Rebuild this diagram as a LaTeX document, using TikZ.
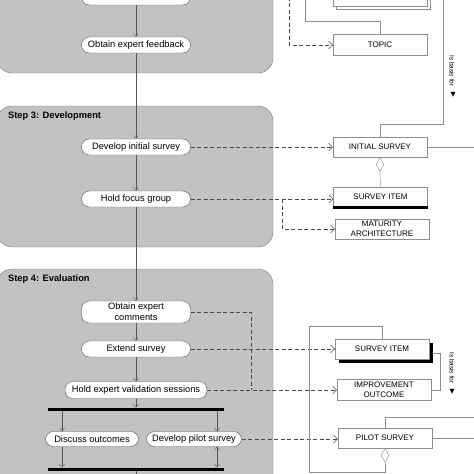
\documentclass[tikz,border=0pt]{standalone}
\usepackage{fontspec}
\setmainfont{Liberation Sans}
\newfontfamily\symfont{DejaVu Sans}
\usetikzlibrary{arrows.meta,shapes.geometric,shadows}

\definecolor{lanefill}{HTML}{C2C2C2}
\definecolor{laneline}{HTML}{7C7C7C}
\definecolor{actline}{HTML}{555555}
\definecolor{boxline}{HTML}{8E8E8E}
\definecolor{traceline}{HTML}{4A4A4A}

\tikzset{
  lane/.style={draw=laneline, fill=lanefill, rounded corners=15pt},
  steplabel/.style={anchor=west, inner sep=0pt, font=\bfseries\fontsize{9.3}{10}\selectfont},
  activity/.style={draw=actline, fill=white, rounded corners=8pt, minimum height=16pt,
    minimum width=109pt, inner sep=1pt, align=center, font=\fontsize{9.3}{11}\selectfont},
  concept/.style={draw=boxline, fill=white, minimum width=94pt, minimum height=20pt,
    inner sep=1pt, align=center, font=\fontsize{8}{9.6}\selectfont},
  aggregate/.style={diamond, draw=boxline, fill=white, minimum width=8pt, minimum height=14pt, inner sep=0pt},
  syncbar/.style={fill=black, minimum width=176pt, minimum height=3pt, inner sep=0pt, outer sep=0pt},
  basislabel/.style={rotate=-90, anchor=west, inner sep=0pt, font=\fontsize{6.5}{7}\selectfont},
  basistip/.style={inner sep=0pt, font=\symfont\fontsize{6.5}{7}\selectfont},
  flow/.style={draw=actline, -{Straight Barb[length=3pt,width=5pt]}},
  trace/.style={draw=traceline, dash pattern=on 4pt off 2.5pt, -{Straight Barb[length=4pt,width=8pt]}},
  link/.style={draw=boxline}
}

\begin{document}
\begin{tikzpicture}[x=1pt,y=-1pt,node distance=244pt]
    \useasboundingbox (0,0) rectangle (474,474);
    \clip (0,0) rectangle (474,474);

    % swimlanes
    \draw[lane] (-3,-30) rectangle (273,73);
    \draw[lane] (-3,106) rectangle (273,247);
    \draw[lane] (-3,269) rectangle (273,520);
    \node[steplabel] (step3) at (8,116) {Step 3: Development};
    \node[steplabel] (step4) at (8,279) {Step 4: Evaluation};

    % activities
    \node[activity] (prev) at (136,-3) {};
    \node[activity] (fb) at (136,45) {Obtain expert feedback};
    \node[activity] (dev) at (136,147) {Develop initial survey};
    \node[activity] (focus) at (136,199) {Hold focus group};
    \node[activity, minimum height=22pt] (comm) at (136,312) {Obtain expert\\comments};
    \node[activity] (ext) at (136,349) {Extend survey};
    \node[activity, minimum width=142pt, minimum height=17pt] (val) at (136,390) {Hold expert validation sessions};
    \node[syncbar] (fork) at (136,409) {};
    \node[activity, minimum width=93pt, minimum height=15pt] (disc) at (92,439) {Discuss outcomes};
    \node[activity, minimum width=95pt, minimum height=15pt] (pilot) at (194,439) {Develop pilot survey};
    \node[syncbar] (join) at (136,469) {};

    % concepts
    \node[concept, copy shadow={shadow xshift=3pt, shadow yshift=-3pt, draw=boxline, fill=white}] (topstack) at (380,-4) {};
    \node[concept, minimum height=21pt] [right of=fb] (topic) {TOPIC};
    \node[concept] [right of=dev] (init) {INITIAL SURVEY};
    \node[concept, minimum height=19pt] (sitem1) at (380.5,196.5) {SURVEY ITEM};
    \node[concept] (mat) at (382,229) {MATURITY\\ARCHITECTURE};
    \node[concept, drop shadow={shadow xshift=4pt, shadow yshift=-4pt, fill=black, opacity=1}] (sitem2) at (382,349) {SURVEY ITEM};
    \node[concept, minimum height=21pt] (imp) at (384,390) {IMPROVEMENT\\OUTCOME};
    \node[concept] (pil) at (385,438) {PILOT SURVEY};
    \node[aggregate, anchor=north] (initagg) at (init.south) {};
    \node[aggregate, anchor=north] (pilagg) at (pil.south) {};
    \fill (sitem1.south west) rectangle ([yshift=-3pt]sitem1.south east);

    \node[basislabel] (basis1) at (452,55) {Is basis for};
    \node[basistip] (basis1tip) at (453,95) {▼};
    \node[basislabel] (basis2) at (452,352) {Is basis for};
    \node[basistip] (basis2tip) at (452,392) {▼};

    % free ends
    \coordinate (tracein) at (289,-10);
    \coordinate (topicout) at (305,-10);
    \coordinate (basisin) at (443,-10);
    \coordinate (initout) at (480,147);
    \coordinate (focussplit) at (282,199);
    \coordinate (commmerge) at (251,390);
    \coordinate (frametl) at (309,326);
    \coordinate (framebl) at (309,472);
    \coordinate (pilout) at (480,417);
    \coordinate (pilright) at (480,438);
    \coordinate (leftbranch) at (62,0);
    \coordinate (rightbranch) at (217,0);
    \coordinate (flowout) at (136,480);

    % control flow
    \path[flow]
      (prev) edge (fb)
      (fb) edge (dev)
      (dev) edge (focus)
      (focus) edge (comm)
      (comm) edge (ext)
      (ext) edge (val)
      (val) edge (fork)
      (fork.south -| leftbranch) edge (disc.north -| leftbranch)
      (fork.south -| rightbranch) edge (pilot.north -| rightbranch)
      (disc.south -| leftbranch) edge (join.north -| leftbranch)
      (pilot.south -| rightbranch) edge (join.north -| rightbranch)
    ;
    \draw[actline] (join.south) -- (flowout);

    % object flow
    \draw[trace] (tracein) |- (topic.west);
    \draw[trace] (dev.east) -- (init.west);
    \draw[trace] (focus.east) -- (focus.east -| sitem1.west);
    \draw[trace] (focussplit) |- (mat.west);
    \draw[trace, -] (comm.east) -| (commmerge);
    \draw[trace] (ext.east) -- (sitem2.west);
    \draw[trace] (val.east) -- (imp.west);
    \draw[trace] (pilot.east) -- (pilot.east -| pil.west);

    % associations
    \draw[link] (topic.north) -- ++(0,-13) -| (topicout);
    \draw[link] (basisin) -- (basisin |- 0,124) -| (init.north);
    \draw[link] (init.east) -- (initout);
    \draw[link] (initagg.south) -- (sitem1.north);
    \draw[link] ([xshift=4pt,yshift=-4pt]sitem2.east) -- ++(7,0) |- (imp.east);
    \draw[link] (sitem2.north) |- (frametl) -- (framebl) -| (pilagg.south);
    \draw[link] (pil.north) |- (pilout);
    \draw[link] (pil.east) -- (pilright);
  \end{tikzpicture}
\end{document}
